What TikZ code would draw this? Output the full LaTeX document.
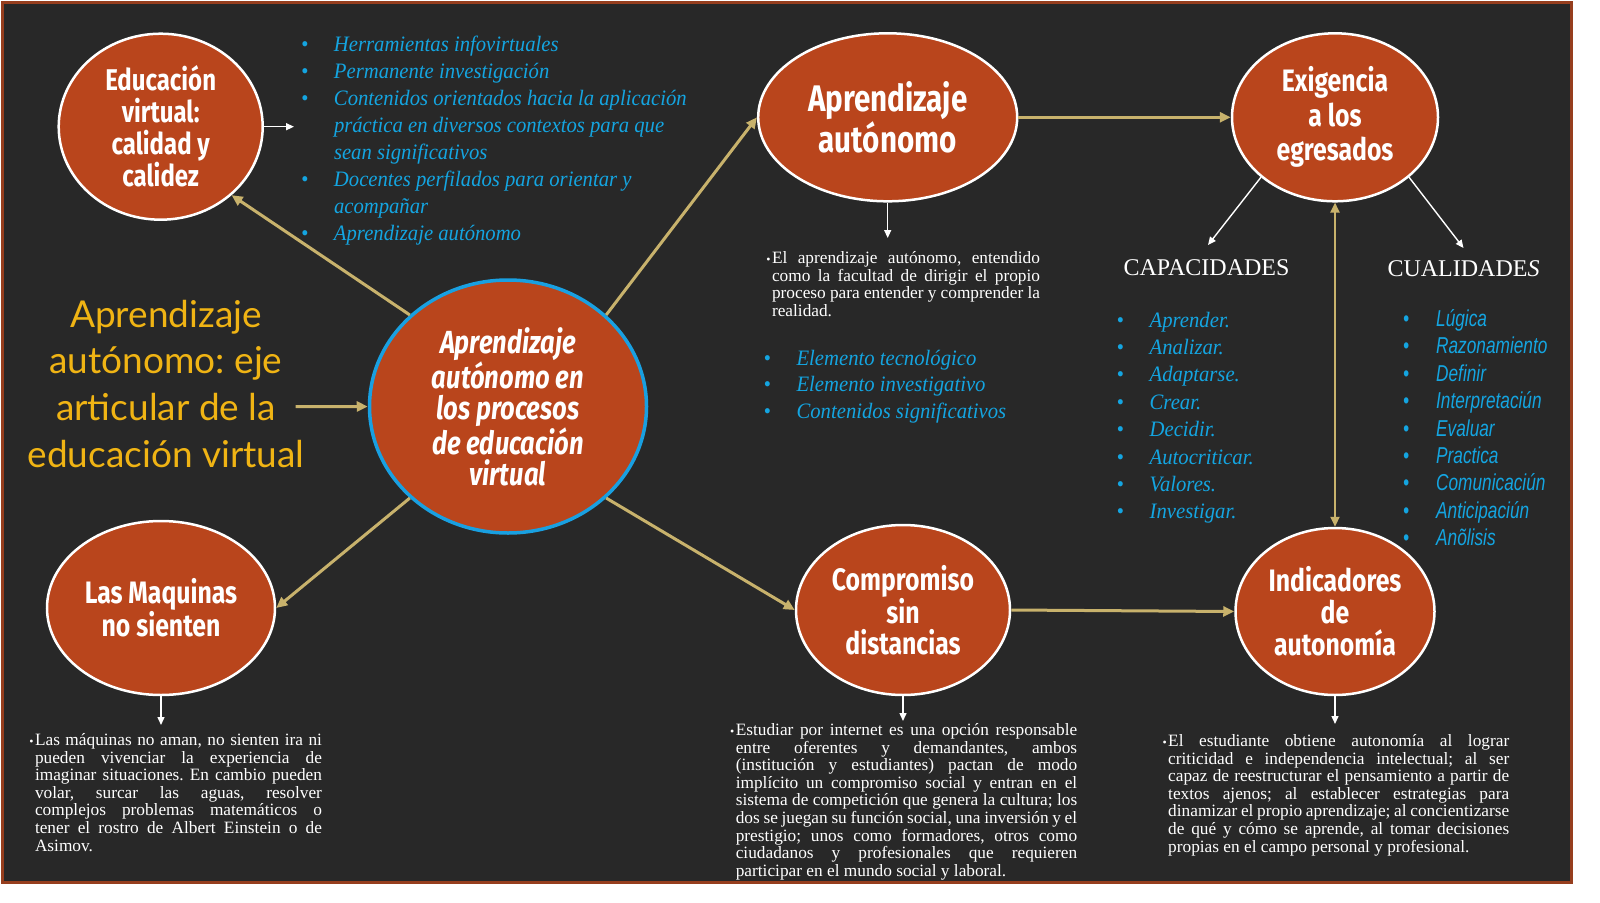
\documentclass[tikz,border=0pt]{standalone}
\usepackage{fontspec}
\setmainfont{Liberation Serif}
\newfontfamily\circfont[FakeStretch=0.8]{Fira Sans}
\newfontfamily\handfont{Lato}
\newfontfamily\listfont[FakeStretch=0.94]{Liberation Serif}
\newfontfamily\narrowfont[FakeStretch=0.75]{Liberation Sans}
\usetikzlibrary{shapes.geometric,arrows.meta}
\definecolor{rust}{RGB}{185,69,28}
\definecolor{board}{RGB}{40,40,40}
\definecolor{framec}{RGB}{150,62,30}
\definecolor{goldl}{RGB}{200,178,108}
\definecolor{sky}{RGB}{20,165,225}
\definecolor{ring}{RGB}{25,160,225}
\definecolor{ylw}{RGB}{240,180,20}
\frenchspacing
\newcommand\JL[1]{\hbox to \hsize{#1}}
\newcommand\LL[1]{\hbox to \hsize{#1\hfil}}
\newcommand\CL[1]{\hbox to \hsize{\hfil#1\hfil}}
\newcommand\sbul{\llap{{\fontsize{12}{12}\selectfont\textbullet}\kern1.5pt}}
\newcommand\BI[1]{\hbox{\llap{\hbox to 33pt{\textbullet\hfil}}#1}}
\newcommand\NI[1]{\hbox{#1}}
\begin{document}
\begin{tikzpicture}[x=1pt,y=-1pt,
  bubble/.style={ellipse, draw=white, line width=2.5pt, fill=rust, inner sep=0pt, text=white, align=center},
  goldarrow/.style={draw=goldl, line width=3pt, -{Triangle[length=11pt,width=10pt]}},
  whitearrow/.style={draw=white, line width=1.4pt, -{Triangle[length=8pt,width=7pt]}},
  bodytext/.style={anchor=base west, inner sep=0pt, text=white, font=\fontsize{17.3}{17.6}\selectfont},
  bluelist/.style={anchor=base west, inner sep=0pt, text=sky},
  heading/.style={inner sep=0pt, text=white, font=\fontsize{24}{26}\selectfont}
]
\useasboundingbox (0,0) rectangle (1600,902);
\fill[white] (0,0) rectangle (1600,902);
\filldraw[fill=board, draw=framec, line width=3pt] (2,2) rectangle (1571,882);

% bubbles
\node[bubble, minimum width=204pt, minimum height=186pt,
      font=\circfont\bfseries\fontsize{30}{32}\selectfont] (educ) at (160.7,126.7)
      {Educación\\virtual:\\calidad y\\calidez};
\node[bubble, minimum width=259pt, minimum height=168pt,
      font=\circfont\bfseries\fontsize{37}{36}\selectfont] (aprend) at (887.7,117.3)
      {Aprendizaje\\autónomo};
\node[bubble, minimum width=206pt, minimum height=168pt,
      font=\circfont\bfseries\fontsize{31}{34.5}\selectfont] (exig) at (1335,117.3)
      {Exigencia\\a los\\egresados};
\node[bubble, draw=ring, line width=3.5pt, minimum width=277pt, minimum height=253pt,
      font=\circfont\bfseries\itshape\fontsize{32}{31}\selectfont] (cent) at (508,406.5)
      {Aprendizaje\\autónomo en\\los procesos\\de educación\\virtual};
\node[bubble, minimum width=228pt, minimum height=174pt,
      font=\circfont\bfseries\fontsize{31}{32}\selectfont] (maq) at (161,608)
      {Las Maquinas\\no sienten};
\node[bubble, minimum width=214pt, minimum height=170pt,
      font=\circfont\bfseries\fontsize{31}{31}\selectfont] (comp) at (903,610)
      {Compromiso\\sin\\distancias};
\node[bubble, minimum width=199pt, minimum height=167pt,
      font=\circfont\bfseries\fontsize{31}{32}\selectfont] (indic) at (1335,611.5)
      {Indicadores\\de\\autonomía};

% yellow title
\node[anchor=base, inner sep=0pt, text=ylw, font=\handfont\fontsize{37}{46.7}\selectfont] (ytext) at (166,327)
  {\vtop{\hsize=300pt \CL{Aprendizaje}\CL{autónomo: eje}\CL{articular de la}\CL{educación virtual}}};
\coordinate (yStart) at (295.5,406.7);
\draw[goldarrow] (yStart) -- (cent.west);

% gold connectors
\draw[goldarrow] (cent.137) -- (educ.-44);
\draw[goldarrow] (cent.43) -- (aprend.west);
\draw[goldarrow] (cent.-137) -- (maq.east);
\draw[goldarrow] (cent.-43) -- (comp.west);
\draw[goldarrow] (aprend.east) -- (exig.west);
\draw[goldarrow] (comp.east) -- (indic.west);
\draw[draw=goldl, line width=2pt, {Triangle[length=10pt,width=9pt]}-{Triangle[length=10pt,width=9pt]}] (exig.south) -- (indic.north);

% white arrows
\coordinate (educTip) at (294,126.7);
\coordinate (aprendTip) at (887.7,238);
\coordinate (capTip) at (1208,245);
\coordinate (cualTip) at (1463.5,248);
\coordinate (maqTip) at (161,725);
\coordinate (compTip) at (903,721);
\coordinate (indicTip) at (1335,724);
\draw[whitearrow] (educ.east) -- (educTip);
\draw[whitearrow] (aprend.south) -- (aprendTip);
\draw[whitearrow] (exig.-141) -- (capTip);
\draw[whitearrow] (exig.-39) -- (cualTip);
\draw[whitearrow] (maq.south) -- (maqTip);
\draw[whitearrow] (comp.south) -- (compTip);
\draw[whitearrow] (indic.south) -- (indicTip);

% blue lists
\node[bluelist, font=\listfont\itshape\fontsize{22}{27.14}\selectfont] (list1) at (333.8,51)
  {\vtop{\BI{Herramientas infovirtuales}\BI{Permanente investigación}\BI{Contenidos orientados hacia la aplicación}\NI{práctica en diversos contextos para que}\NI{sean significativos}\BI{Docentes perfilados para orientar y}\NI{acompañar}\BI{Aprendizaje autónomo}}};
\node[bluelist, font=\listfont\itshape\fontsize{22}{26.7}\selectfont] (list2) at (796.4,365)
  {\vtop{\BI{Elemento tecnológico}\BI{Elemento investigativo}\BI{Contenidos significativos}}};
\node[bluelist, font=\listfont\itshape\fontsize{22}{27.4}\selectfont] (capl) at (1149.5,327)
  {\vtop{\BI{Aprender.}\BI{Analizar.}\BI{Adaptarse.}\BI{Crear.}\BI{Decidir.}\BI{Autocriticar.}\BI{Valores.}\BI{Investigar.}}};
\node[bluelist, font=\narrowfont\itshape\fontsize{23}{27.4}\selectfont] (cuall) at (1436,326.5)
  {\vtop{\BI{Lúgica}\BI{Razonamiento}\BI{Definir}\BI{Interpretaciún}\BI{Evaluar}\BI{Practica}\BI{Comunicaciún}\BI{Anticipaciún}\BI{Anõlisis}}};

% headings
\node[heading] (cap) at (1206.5,267.3) {CAPACIDADES};
\node[heading] (cual) at (1463.5,269) {CUALIDADE\textit{S}};

% body texts
\node[bodytext, font=\fontsize{17.3}{17.5}\selectfont] (aprtext) at (771.8,263.8)
  {\vtop{\hsize=268pt
  \JL{\sbul El aprendizaje autónomo, entendido}
  \JL{como la facultad de dirigir el propio}
  \JL{proceso para entender y comprender la}
  \LL{realidad.}}};
\node[bodytext] (maqtext) at (34.8,745.5)
  {\vtop{\hsize=287pt
  \JL{\sbul Las máquinas no aman, no sienten ira ni}
  \JL{pueden vivenciar la experiencia de}
  \JL{imaginar situaciones. En cambio pueden}
  \JL{volar, surcar las aguas, resolver}
  \JL{complejos problemas matemáticos o}
  \JL{tener el rostro de Albert Einstein o de}
  \LL{Asimov.}}};
\node[bodytext] (comptext) at (735.6,735.5)
  {\vtop{\hsize=341.4pt
  \JL{\sbul Estudiar por internet es una opción responsable}
  \JL{entre oferentes y demandantes, ambos}
  \JL{(institución y estudiantes) pactan de modo}
  \JL{implícito un compromiso social y entran en el}
  \JL{sistema de competición que genera la cultura; los}
  \JL{dos se juegan su función social, una inversión y el}
  \JL{prestigio; unos como formadores, otros como}
  \JL{ciudadanos y profesionales que requieren}
  \LL{participar en el mundo social y laboral.}}};
\node[bodytext] (indtext) at (1168,746.5)
  {\vtop{\hsize=341pt
  \JL{\sbul El estudiante obtiene autonomía al lograr}
  \JL{criticidad e independencia intelectual; al ser}
  \JL{capaz de reestructurar el pensamiento a partir de}
  \JL{textos ajenos; al establecer estrategias para}
  \JL{dinamizar el propio aprendizaje; al concientizarse}
  \JL{de qué y cómo se aprende, al tomar decisiones}
  \LL{propias en el campo personal y profesional.}}};
\end{tikzpicture}
\end{document}
